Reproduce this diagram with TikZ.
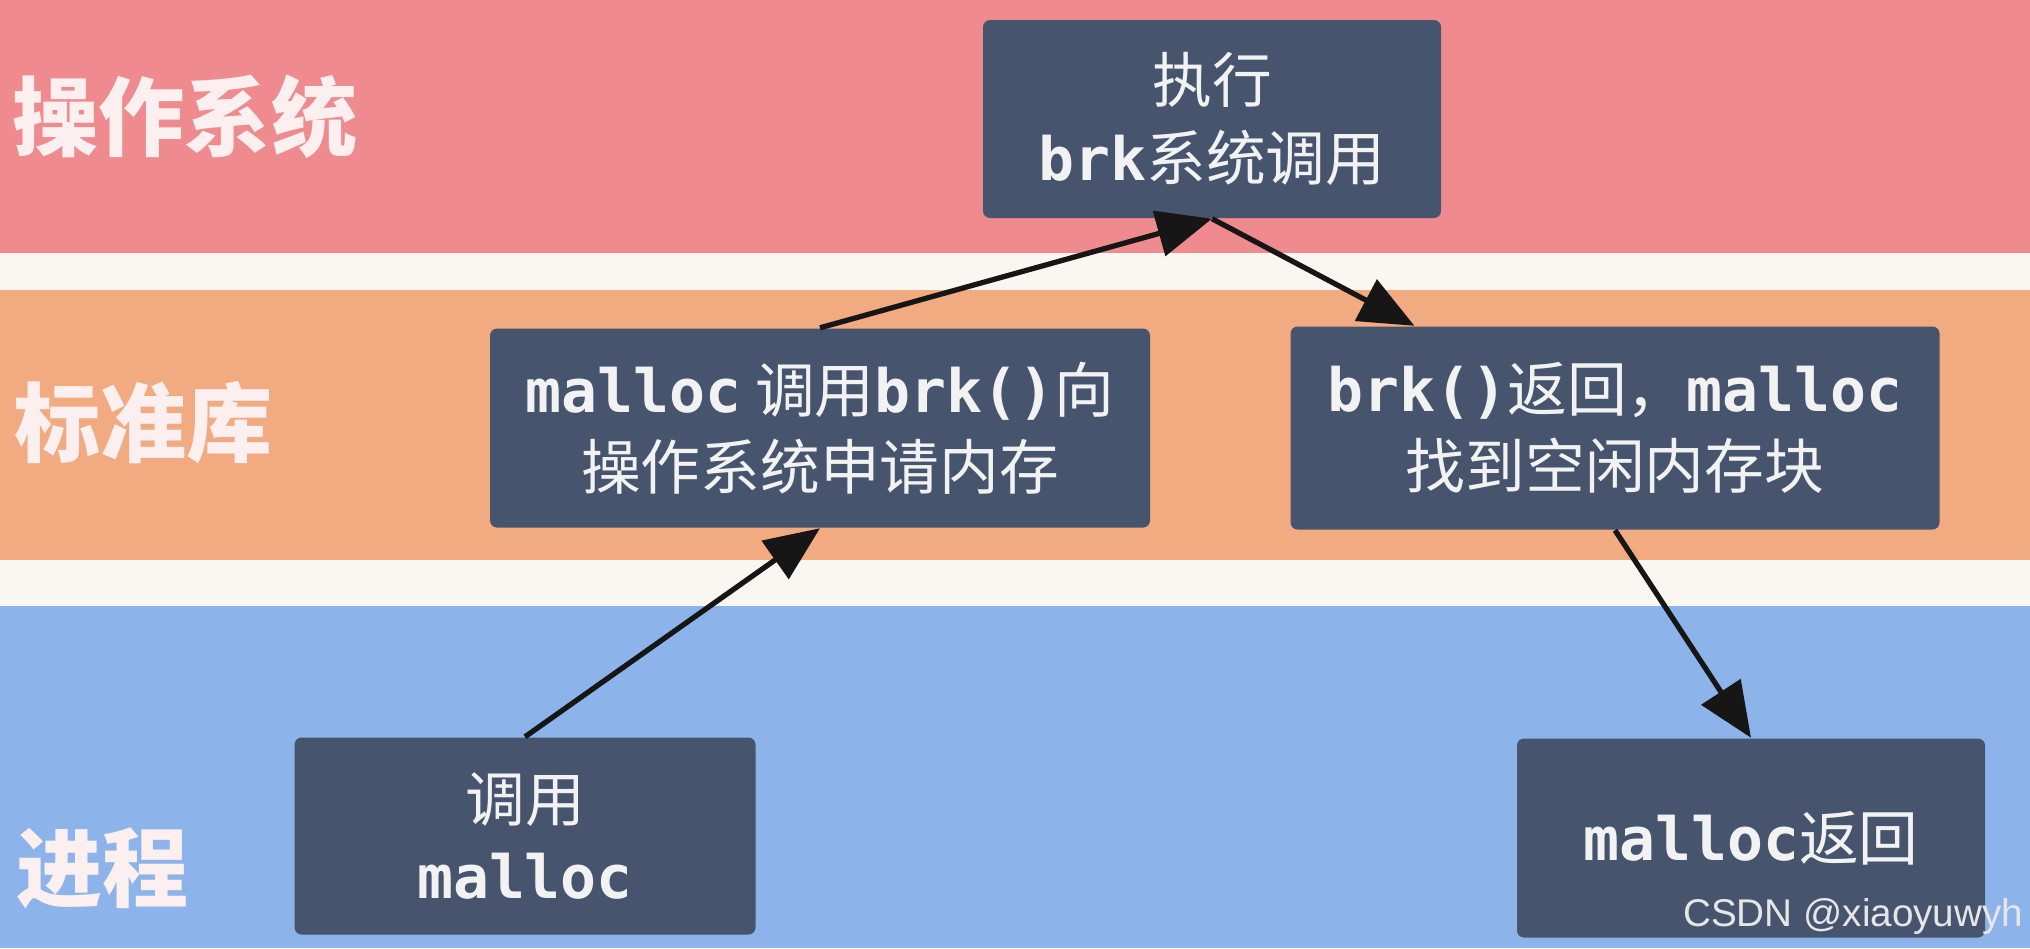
\documentclass[tikz,border=0pt]{standalone}
\usepackage{fontspec}
\setmainfont{Noto Sans CJK SC}
\newfontfamily\monofont{DejaVu Sans Mono}
\newfontfamily\wmfont{Liberation Sans}
\usetikzlibrary{arrows.meta}
\definecolor{osred}{HTML}{EF8B8E}
\definecolor{libor}{HTML}{F2AA80}
\definecolor{procblue}{HTML}{8CB4EB}
\definecolor{gapwhite}{HTML}{FAF6F2}
\definecolor{boxgray}{HTML}{46546E}
\definecolor{boxtext}{HTML}{F2F2F2}
\definecolor{labeltext}{HTML}{FBF0EF}
\definecolor{arrowblack}{HTML}{161616}
\definecolor{wmgray}{HTML}{E6E6E6}
\newcommand{\code}[1]{{\monofont\bfseries #1}}
\begin{document}
\begin{tikzpicture}[x=0.1mm,y=-0.1mm,
    box/.style={fill=boxgray, text=boxtext, align=center, inner sep=0pt,
      rounded corners=2pt, font=\fontsize{17}{22}\selectfont},
    layer/.style={anchor=west, inner sep=0pt, text=labeltext,
      font=\fontsize{24.5}{28}\selectfont\bfseries},
    flow/.style={draw=arrowblack, line width=1.5pt,
      -{Triangle[length=5.5mm,width=4.6mm]}}]
    \useasboundingbox (0,0) rectangle (2030,948);
    % layers
    \fill[gapwhite] (0,0) rectangle (2030,948);
    \fill[osred] (0,0) rectangle (2030,253);
    \fill[libor] (0,290) rectangle (2030,560);
    \fill[procblue] (0,606) rectangle (2030,948);
    \node[layer] (os) at (12,117) {操作系统};
    \node[layer] (lib) at (14,423) {标准库};
    \node[layer] (proc) at (16,868) {进程};
    % steps
    \node[box, minimum width=45.8mm, minimum height=19.8mm] (brk) at (1212,119)
      {执行\\\code{brk}系统调用};
    \node[box, minimum width=66mm, minimum height=19.9mm] (req) at (820,428)
      {\code{malloc} 调用\code{brk()}向\\操作系统申请内存};
    \node[box, minimum width=64.9mm, minimum height=20.3mm] (ret) at (1615,428)
      {\code{brk()}返回，\code{malloc}\\找到空闲内存块};
    \node[box, minimum width=46.1mm, minimum height=19.7mm] (call) at (525,836)
      {调用\\\code{malloc}};
    \node[box, minimum width=46.8mm, minimum height=19.9mm] (done) at (1751,838)
      {\code{malloc}返回};
    \node[anchor=south east, inner sep=0pt, text=wmgray,
      font=\fontsize{11}{13}\selectfont\wmfont] (mark) at (2024,935) {CSDN @xiaoyuwyh};
    % calls
    \draw[flow] (call.north) -- (req.south);
    \draw[flow] (req.north) -- (brk.south);
    \draw[flow] (brk.south) -- (ret.153);
    \draw[flow] (ret.south) -- (done.north);
\end{tikzpicture}
\end{document}
